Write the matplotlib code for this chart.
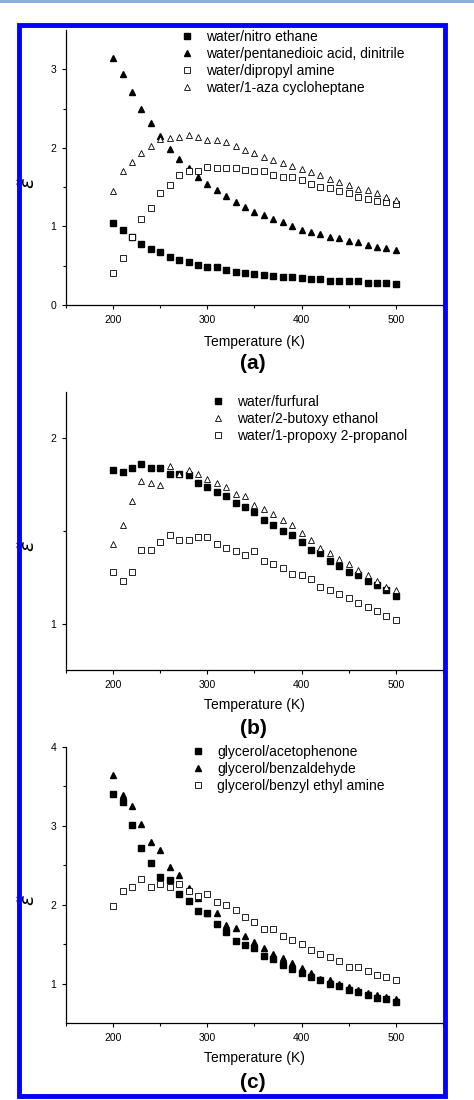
import matplotlib
matplotlib.use('Agg')
import matplotlib.pyplot as plt
import numpy as np
from matplotlib.patches import Rectangle

plt.rcParams['font.family'] = ['Liberation Sans', 'DejaVu Sans']
plt.rcParams['mathtext.fontset'] = 'dejavusans'

temp = list(range(200, 510, 10))

# panel (a)
nitro_ethane = [1.04, 0.96, 0.87, 0.78, 0.71, 0.67, 0.61, 0.57, 0.545, 0.515, 0.49, 0.48, 0.44, 0.42, 0.41, 0.39,
                0.38, 0.37, 0.36, 0.355, 0.35, 0.33, 0.33, 0.31, 0.31, 0.30, 0.30, 0.28, 0.28, 0.28, 0.27]
pentanedioic = [3.15, 2.94, 2.71, 2.50, 2.32, 2.15, 1.99, 1.86, 1.75, 1.63, 1.54, 1.46, 1.39, 1.31, 1.25, 1.19,
                1.14, 1.09, 1.06, 1.00, 0.96, 0.93, 0.90, 0.87, 0.85, 0.815, 0.80, 0.76, 0.74, 0.72, 0.70]
dipropyl_amine = [0.41, 0.60, 0.87, 1.09, 1.23, 1.43, 1.53, 1.65, 1.70, 1.70, 1.76, 1.74, 1.74, 1.74, 1.72, 1.71,
                  1.70, 1.65, 1.63, 1.63, 1.59, 1.54, 1.50, 1.49, 1.45, 1.43, 1.37, 1.35, 1.33, 1.31, 1.29]
aza_cycloheptane = [1.45, 1.71, 1.82, 1.94, 2.03, 2.11, 2.13, 2.14, 2.16, 2.14, 2.10, 2.10, 2.07, 2.03, 1.97, 1.93,
                    1.89, 1.85, 1.81, 1.77, 1.73, 1.69, 1.65, 1.61, 1.56, 1.53, 1.48, 1.46, 1.42, 1.38, 1.34]

# panel (b)
furfural = [1.83, 1.82, 1.84, 1.86, 1.84, 1.84, 1.81, 1.81, 1.80, 1.76, 1.74, 1.71, 1.69, 1.65, 1.63, 1.60,
            1.56, 1.53, 1.50, 1.48, 1.44, 1.40, 1.38, 1.34, 1.31, 1.28, 1.26, 1.23, 1.21, 1.18, 1.15]
butoxy_ethanol = [1.43, 1.53, 1.66, 1.77, 1.76, 1.75, 1.85, 1.81, 1.83, 1.81, 1.78, 1.76, 1.74, 1.70, 1.69, 1.64,
                  1.62, 1.59, 1.56, 1.53, 1.49, 1.45, 1.41, 1.38, 1.35, 1.32, 1.29, 1.26, 1.23, 1.20, 1.18]
propoxy_propanol = [1.28, 1.23, 1.28, 1.40, 1.40, 1.44, 1.48, 1.45, 1.45, 1.47, 1.47, 1.43, 1.41, 1.39, 1.37, 1.39,
                    1.34, 1.32, 1.30, 1.27, 1.26, 1.24, 1.20, 1.18, 1.16, 1.14, 1.11, 1.09, 1.07, 1.04, 1.02]

# panel (c)
acetophenone = [3.41, 3.30, 3.01, 2.72, 2.53, 2.35, 2.31, 2.14, 2.05, 1.92, 1.89, 1.75, 1.65, 1.54, 1.49, 1.45,
                1.35, 1.31, 1.23, 1.19, 1.14, 1.08, 1.04, 1.00, 0.97, 0.92, 0.89, 0.86, 0.82, 0.80, 0.77]
benzaldehyde = [3.64, 3.39, 3.25, 3.02, 2.80, 2.69, 2.48, 2.38, 2.21, 2.09, 1.90, 1.89, 1.74, 1.70, 1.60, 1.53,
                1.45, 1.37, 1.33, 1.26, 1.20, 1.14, 1.06, 1.05, 1.00, 0.96, 0.92, 0.88, 0.85, 0.83, 0.80]
benzyl_ethyl_amine = [1.98, 2.17, 2.23, 2.33, 2.23, 2.26, 2.23, 2.26, 2.18, 2.11, 2.14, 2.03, 2.00, 1.93, 1.84, 1.78,
                      1.69, 1.69, 1.60, 1.55, 1.50, 1.43, 1.38, 1.34, 1.29, 1.21, 1.21, 1.16, 1.11, 1.08, 1.04]

W, H = 474, 1100
fig = plt.figure(figsize=(4.74, 11), dpi=100)

# page decoration: light top band and blue frame
fig.patches.append(Rectangle((0, 1 - 3 / H), 1, 3 / H, transform=fig.transFigure,
                             facecolor='#8aaede', edgecolor='none'))
fig.patches.append(Rectangle((18.5 / W, 1 - 1096 / H), 426 / W, 1071 / H, transform=fig.transFigure,
                             facecolor='none', edgecolor='#0000ff', linewidth=3.5))


def setup(ax, ylim, ymaj, ymin):
    ax.set_xlim(150, 550)
    ax.set_ylim(*ylim)
    ax.set_xticks([200, 300, 400, 500])
    ax.set_xticks(np.arange(150, 551, 50), minor=True)
    ax.set_yticks(ymaj)
    ax.set_yticks(ymin, minor=True)
    for s in ['top', 'right']:
        ax.spines[s].set_visible(False)
    for s in ['left', 'bottom']:
        ax.spines[s].set_linewidth(0.9)
    ax.tick_params(which='major', direction='out', length=3, width=0.8, labelsize=7.5, pad=4)
    ax.tick_params(which='minor', direction='out', length=2, width=0.8)
    ax.set_ylabel(r'$\tilde{\varepsilon}$', fontsize=14)
    ax.yaxis.set_label_coords(-0.072, 0.445)


def px(x, y):
    return (x / W, 1 - y / H)


ms = 4.0
# (a)
ax1 = fig.add_axes([66 / W, 1 - 305 / H, 377 / W, 275 / H])
ax1.plot(temp, nitro_ethane, 's', color='black', ms=ms, label='water/nitro ethane')
ax1.plot(temp, pentanedioic, '^', color='black', ms=ms + 0.8, label='water/pentanedioic acid, dinitrile')
ax1.plot(temp, dipropyl_amine, 's', mfc='white', mec='black', mew=0.6, ms=ms, label='water/dipropyl amine')
ax1.plot(temp, aza_cycloheptane, '^', mfc='white', mec='black', mew=0.6, ms=ms + 0.8, label='water/1-aza cycloheptane')
setup(ax1, (0, 3.5), [0, 1, 2, 3], [0.5, 1.5, 2.5])

# (b)
ax2 = fig.add_axes([66 / W, 1 - 670 / H, 377 / W, 278 / H])
ax2.plot(temp, furfural, 's', color='black', ms=ms, label='water/furfural')
ax2.plot(temp, butoxy_ethanol, '^', mfc='white', mec='black', mew=0.6, ms=ms + 0.8, label='water/2-butoxy ethanol')
ax2.plot(temp, propoxy_propanol, 's', mfc='white', mec='black', mew=0.6, ms=ms, label='water/1-propoxy 2-propanol')
setup(ax2, (0.75, 2.25), [1, 2], [1.5])

# (c)
ax3 = fig.add_axes([66 / W, 1 - 1023 / H, 377 / W, 276 / H])
ax3.plot(temp, acetophenone, 's', color='black', ms=ms, label='glycerol/acetophenone')
ax3.plot(temp, benzaldehyde, '^', color='black', ms=ms + 0.8, label='glycerol/benzaldehyde')
ax3.plot(temp, benzyl_ethyl_amine, 's', mfc='white', mec='black', mew=0.6, ms=ms, label='glycerol/benzyl ethyl amine')
setup(ax3, (0.5, 4), [1, 2, 3, 4], [1.5, 2.5, 3.5])

for ax, anchor in [(ax1, px(181, 30)), (ax2, px(212, 395)), (ax3, px(192, 745))]:
    ax.legend(loc='upper left', bbox_to_anchor=anchor, bbox_transform=fig.transFigure,
              frameon=False, fontsize=10, numpoints=1, handlelength=0.85, handletextpad=0.95,
              labelspacing=0.22, borderpad=0, borderaxespad=0)

for ylab, ytag, tag in [(342, 363, '(a)'), (705, 728, '(b)'), (1058, 1083, '(c)')]:
    fig.text(*px(254, ylab), 'Temperature (K)', ha='center', va='center', fontsize=10)
    fig.text(*px(253, ytag), tag, ha='center', va='center', fontsize=15, fontweight='bold')

fig.savefig('out.png', dpi=100)
